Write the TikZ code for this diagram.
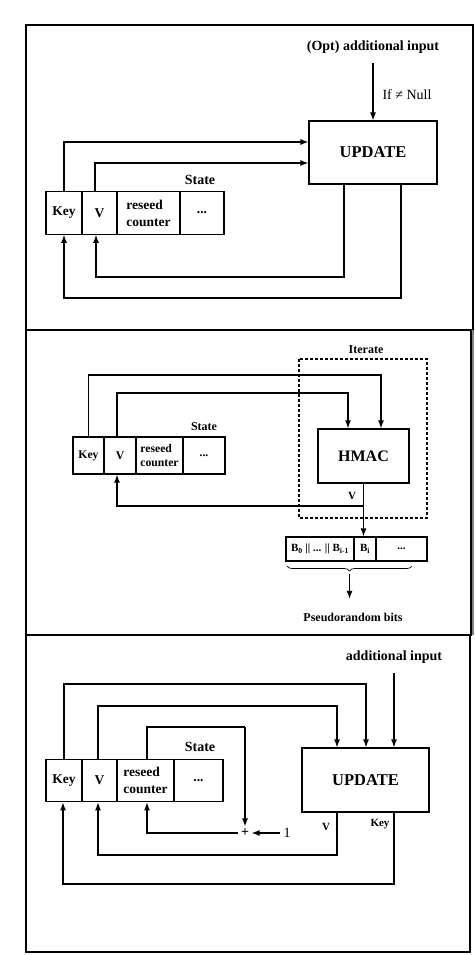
\documentclass[tikz,border=0pt]{standalone}
\usepackage{fontspec}
\setmainfont{Liberation Serif}
\usetikzlibrary{arrows.meta,decorations.pathreplacing}

\tikzset{
  frame/.style={line width=1.6pt},
  box/.style={draw, line width=1.2pt, inner sep=0pt},
  big/.style={box, font=\bfseries\fontsize{16.5}{18}\selectfont},
  cell/.style={box, minimum height=42.5pt, align=left, font=\bfseries\fontsize{13.5}{17}\selectfont},
  cellsm/.style={box, minimum height=37pt, align=left, font=\bfseries\fontsize{11.7}{14}\selectfont},
  cellxs/.style={box, minimum height=24pt, font=\bfseries\fontsize{11}{13}\selectfont},
  lbl/.style={font=\bfseries\fontsize{14}{16}\selectfont},
  lblsm/.style={font=\bfseries\fontsize{12}{14}\selectfont},
  lblxs/.style={font=\bfseries\fontsize{11}{13}\selectfont},
  plain/.style={font=\fontsize{14}{16}\selectfont}
}

\begin{document}
\begin{tikzpicture}[x=1pt,y=-1pt,line width=1.2pt,>={Latex[length=8pt,width=6pt]}]
\useasboundingbox (0,0) rectangle (474,955);

% top panel
\draw[frame] (26,25) rectangle (473,330);
\node[lbl] (opt) at (373,47) {(Opt) additional input};
\node[plain] (ifn) at (407,95) {If ≠ Null};
\node[big, minimum width=128pt, minimum height=63pt] (upd1) at (373,152.5) {UPDATE};
\draw[->] ([yshift=-6pt]opt.south) -- (upd1.north);

\node[cell, minimum width=36pt] (k1) at (64,213) {Key};
\node[cell, minimum width=35pt] (v1) at (99.5,213) {V};
\node[cell, minimum width=63pt] (c1) at (148.5,213) {reseed\\counter};
\node[cell, minimum width=44pt] (d1) at (202,213) {...};
\node[lbl] (st1) at (200,180) {State};

\draw[->] (k1.north) |- ([yshift=10.5pt]upd1.west);
\draw[->] ([xshift=-4.5pt]v1.north) |- ([yshift=-10.5pt]upd1.west);
\coordinate (r1) at (344,277);
\coordinate (r2) at (401,298);
\draw[->] (upd1.south -| r1) -- (r1) -| ([xshift=-3.5pt]v1.south);
\draw[->] (upd1.south -| r2) -- (r2) -| (k1.south);

% middle panel
\draw[frame] (26,330) rectangle (471,635);
\draw[gray, line width=1.2pt] (473,330) -- (473,635);
\node[lblsm] (it) at (366,350) {Iterate};
\draw[dash pattern=on 3pt off 2pt] (299,359) rectangle (427,518);
\node[box, font=\bfseries\fontsize{16}{18}\selectfont, minimum width=91pt, minimum height=54pt] (hmac) at (363.5,456) {HMAC};

\node[cellsm, minimum width=31pt] (k2) at (88.5,455.5) {Key};
\node[cellsm, minimum width=32pt] (v2) at (120,455.5) {V};
\node[cellsm, minimum width=47pt] (c2) at (159.5,455.5) {reseed\\counter};
\node[cellsm, minimum width=42pt] (d2) at (204,455.5) {...};
\node[lblsm] (st2) at (204,427) {State};

\coordinate (t1) at (381,375);
\coordinate (t2) at (348,393);
\draw[->] (k2.north) |- (t1) -- (hmac.north -| t1);
\draw[->] ([xshift=-3pt]v2.north) |- (t2) -- (hmac.north -| t2);

\node[cellxs, minimum width=68pt] (b1) at (320,549) {B\textsubscript{0} || ... || B\textsubscript{i-1}};
\node[cellxs, minimum width=22pt] (b2) at (365,549) {B\textsubscript{i}};
\node[cellxs, minimum width=51pt] (b3) at (401.5,549) {...};

\coordinate (j2) at (363.5,506);
\draw[->] (hmac.south) -- (b2.north -| hmac.south);
\draw[->] (j2) -| ([xshift=-3pt]v2.south);
\node[lblxs] (vo) at (352,496) {V};

\draw[decorate, decoration={brace, mirror, amplitude=5pt}, line width=0.7pt] (287,566) -- (412,566);
\coordinate (bt) at (349.5,574);
\node[lblsm] (prb) at (353,617) {Pseudorandom bits};
\draw[->, shorten >=10pt] (bt) -- (bt |- prb.north);

% bottom panel
\draw[frame] (26,635) rectangle (470,952);
\node[lbl] (add) at (394,657) {additional input};
\node[big, minimum width=127pt, minimum height=64pt] (upd3) at (365.5,780) {UPDATE};
\draw[->] ([yshift=-6pt]add.south) -- (upd3.north -| add.south);

\node[cell, minimum width=36pt] (k3) at (64,780.5) {Key};
\node[cell, minimum width=35pt] (v3) at (99.5,780.5) {V};
\node[cell, minimum width=57pt] (c3) at (145.5,780.5) {reseed\\counter};
\node[cell, minimum width=49pt] (d3) at (198.5,780.5) {...};
\node[lbl] (st3) at (200,747) {State};

\coordinate (u1) at (366,684);
\coordinate (u2) at (337,706);
\coordinate (u3) at (245,727);
\draw[->] (k3.north) |- (u1) -- (upd3.north -| u1);
\draw[->] ([xshift=-1.5pt]v3.north) |- (u2) -- (upd3.north -| u2);
\draw ([xshift=1.5pt]c3.north) |- (u3);

\node[lbl, inner sep=2pt] (plus) at (245,833) {+};
\node[plain] (one) at (287,833) {1};
\draw[->] (u3) -- (plus.north);
\draw[->] (one.west) -- (plus.east);
\draw[->] (plus.west) -| ([xshift=1.5pt]c3.south);

\node[lblxs] (vl3) at (326,827) {V};
\node[lblxs] (kl3) at (380,824) {Key};
\coordinate (w1) at (337,855);
\coordinate (w2) at (394,884);
\draw[->] (upd3.south -| w1) -- (w1) -| ([xshift=-1.5pt]v3.south);
\draw[->] (upd3.south -| w2) -- (w2) -| ([xshift=-1pt]k3.south);
\end{tikzpicture}
\end{document}
